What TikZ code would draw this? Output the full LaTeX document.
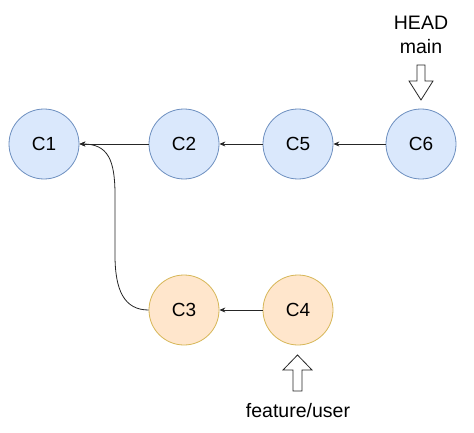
\documentclass[tikz,border=0pt]{standalone}
\usepackage{fontspec}
\setmainfont{Liberation Sans}
\usetikzlibrary{arrows.meta}
\definecolor{bfill}{HTML}{DAE8FC}
\definecolor{bdraw}{HTML}{6C8EBF}
\definecolor{ofill}{HTML}{FFE6CC}
\definecolor{odraw}{HTML}{D6B656}
\begin{document}
\begin{tikzpicture}[x=1pt,y=-1pt,
  commit/.style={circle,minimum size=70pt,inner sep=0pt,line width=0.8pt,font=\fontsize{19}{21}\selectfont},
  bluec/.style={commit,fill=bfill,draw=bdraw},
  orangec/.style={commit,fill=ofill,draw=odraw},
  link/.style={draw=black!85,line width=0.8pt,-{Stealth[length=6pt,width=5pt]}},
  lbl/.style={font=\fontsize{19.5}{24}\selectfont,inner sep=0pt,align=center},
  hollow/.style={draw=black!85,fill=white,line width=0.8pt,line join=miter}]
\useasboundingbox (0,0) rectangle (474,433);
\node[bluec] (c1) at (44,144) {C1};
\node[bluec] (c2) at (184,144) {C2};
\node[bluec] (c5) at (298,144) {C5};
\node[bluec] (c6) at (421,144) {C6};
\node[orangec] (c3) at (184,310) {C3};
\node[orangec] (c4) at (298,310) {C4};
\draw[link] (c2) -- (c1);
\draw[link] (c5) -- (c2);
\draw[link] (c6) -- (c5);
\draw[link] (c4) -- (c3);
\draw[link] (c3.west) .. controls (124,310) and (115,290) .. (115,255)
  -- (115,195) .. controls (115,160) and (108,144) .. (c1.east);
\node[lbl] (head) at (421,35) {HEAD\\main};
\draw[hollow] (417,65) -- (425,65) -- (425,81) -- (433,81) -- (421,100) -- (409,81) -- (417,81) -- cycle;
\draw[hollow] (297.5,355) -- (312,370) -- (302,370) -- (302,391) -- (293,391) -- (293,370) -- (283,370) -- cycle;
\node[lbl] (feat) at (298,411) {feature/user};
\end{tikzpicture}
\end{document}
